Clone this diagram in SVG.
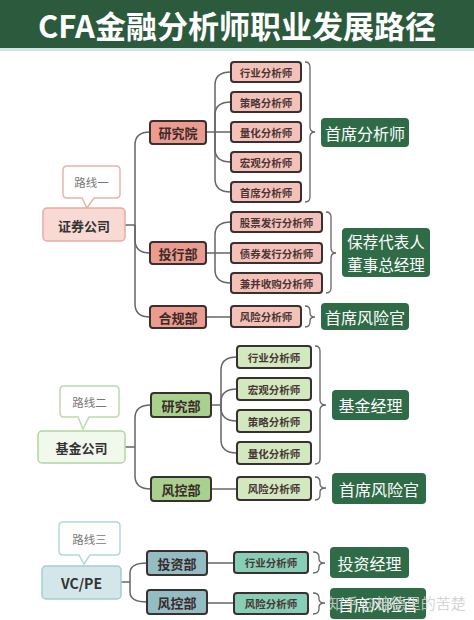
<svg xmlns="http://www.w3.org/2000/svg" width="474" height="620" viewBox="0 0 474 620">
<style>
text{font-family:"Noto Sans CJK SC","Liberation Sans",sans-serif;text-anchor:middle;dominant-baseline:central}
.title{font-size:31px;font-weight:bold;fill:#fff}
.co{font-size:13px;font-weight:bold;fill:#333}
.call{font-size:11.5px;fill:#777}
.mid{font-size:13px;font-weight:bold;fill:#3a2a2a}
.leaf{font-size:10.5px;font-weight:bold;fill:#4a3535}
.res{font-size:16px;fill:#fff}
.res15{font-size:15.5px;fill:#fff}
.dk{stroke:#3b2f2f;stroke-width:2}
.pmid{fill:#ec9b8f}
.pleaf{fill:#f4c1b9}
.gmid{fill:#a9d18e}
.gleaf{fill:#d2e8bf}
.tmid{fill:#93bdc4}
.tleaf{fill:#86ceb6}
.resbox{fill:#2f6b47}
.conn path{fill:none;stroke:#666;stroke-width:1.5}
.brace{fill:none;stroke:#666;stroke-width:1.3}
</style>
<rect width="474" height="620" fill="#fff"/>
<g id="title">
<rect x="0" y="0" width="474" height="48" fill="#2b5a3d"/>
<rect x="0" y="48" width="474" height="3" fill="#cfe7e2"/>
<text x="237" y="24" class="title">CFA金融分析师职业发展路径</text>
</g>

<g class="conn" id="connectors">
<!-- section 1 -->
<path d="M125,225H135"/>
<path d="M135,225V145Q135,132 150,132"/>
<path d="M135,225V240Q135,253 150,253"/>
<path d="M135,225V304Q135,317 150,317"/>
<path d="M206,132H231"/>
<path d="M215,132V85Q215,72 231,72"/>
<path d="M215,132V115Q215,102 231,102"/>
<path d="M215,132V149Q215,162 231,162"/>
<path d="M215,132V179Q215,192 231,192"/>
<path d="M206,253H231"/>
<path d="M215,253V235Q215,222 231,222"/>
<path d="M215,253V270Q215,283 231,283"/>
<path d="M206,317H231"/>
<!-- section 2 -->
<path d="M125,447H135"/>
<path d="M135,447V418Q135,405 151,405"/>
<path d="M135,447V476Q135,489 151,489"/>
<path d="M211,405H221"/>
<path d="M221,405V370Q221,357 237,357"/>
<path d="M221,405V402Q221,389 237,389"/>
<path d="M221,405V408Q221,421 237,421"/>
<path d="M221,405V440Q221,453 237,453"/>
<path d="M211,489H237"/>
<!-- section 3 -->
<path d="M121,582H130"/>
<path d="M130,582V573Q130,563 147,563"/>
<path d="M130,582V592Q130,602 147,602"/>
<path d="M207,563H234"/>
<path d="M207,603H234"/>
</g>

<g id="braces">
<path class="brace" d="M305,62Q310,62 310,67V127Q310,132 315,132Q310,132 310,137V197Q310,202 305,202"/>
<path class="brace" d="M326,212Q331,212 331,217V248Q331,253 336,253Q331,253 331,258V288Q331,293 326,293"/>
<path class="brace" d="M305,306Q310,306 310,311V313Q310,317 315,317Q310,317 310,321V322Q310,327 305,327"/>
<path class="brace" d="M315,346Q320,346 320,351V400Q320,405 326,405Q320,405 320,410V459Q320,464 315,464"/>
<path class="brace" d="M315,477Q320,477 320,482V484Q320,488 326,488Q320,488 320,492V495Q320,500 315,500"/>
<path class="brace" d="M313,552Q319,552 319,557V559Q319,563 325,563Q319,563 319,567V568Q319,573 313,573"/>
<path class="brace" d="M313,593Q319,593 319,598V599Q319,603 325,603Q319,603 319,607V609Q319,614 313,614"/>
</g>

<!-- Section 1 -->
<g id="callout1">
<path d="M67,166H116Q120,166 120,170V194Q120,198 116,198H94L87,208L82,198H67Q63,198 63,194V170Q63,166 67,166Z" fill="#fff" stroke="#e6b5ad" stroke-width="1.5"/>
<text x="91.5" y="182" class="call">路线一</text>
</g>
<g id="zqgs">
<rect x="43" y="208" width="82" height="33" rx="4" fill="#f8d9d4" stroke="#e6aaa2" stroke-width="1.5"/>
<text x="84" y="225" class="co">证券公司</text>
</g>
<g id="yjy"><rect x="150" y="121" width="56" height="23" rx="3" class="pmid dk"/><text x="178" y="132.5" class="mid">研究院</text></g>
<g id="thb"><rect x="150" y="242" width="56" height="22" rx="3" class="pmid dk"/><text x="178" y="253" class="mid">投行部</text></g>
<g id="hgb"><rect x="150" y="306" width="56" height="22" rx="3" class="pmid dk"/><text x="178" y="317" class="mid">合规部</text></g>

<g id="l1a"><rect x="231" y="62" width="70" height="20" rx="3" class="pleaf dk"/><text x="266" y="72" class="leaf">行业分析师</text></g>
<g id="l1b"><rect x="231" y="92" width="70" height="20" rx="3" class="pleaf dk"/><text x="266" y="102" class="leaf">策略分析师</text></g>
<g id="l1c"><rect x="231" y="122" width="70" height="20" rx="3" class="pleaf dk"/><text x="266" y="132" class="leaf">量化分析师</text></g>
<g id="l1d"><rect x="231" y="152" width="70" height="20" rx="3" class="pleaf dk"/><text x="266" y="162" class="leaf">宏观分析师</text></g>
<g id="l1e"><rect x="231" y="182" width="70" height="20" rx="3" class="pleaf dk"/><text x="266" y="192" class="leaf">首席分析师</text></g>
<g id="l1f"><rect x="231" y="212" width="91" height="20" rx="3" class="pleaf dk"/><text x="276.5" y="222" class="leaf">股票发行分析师</text></g>
<g id="l1g"><rect x="231" y="243" width="91" height="20" rx="3" class="pleaf dk"/><text x="276.5" y="253" class="leaf">债券发行分析师</text></g>
<g id="l1h"><rect x="231" y="273" width="91" height="20" rx="3" class="pleaf dk"/><text x="276.5" y="283" class="leaf">兼并收购分析师</text></g>
<g id="l1i"><rect x="231" y="306" width="70" height="21" rx="3" class="pleaf dk"/><text x="266" y="316.5" class="leaf">风险分析师</text></g>

<g id="r1a"><rect x="321" y="118" width="88" height="29" rx="4" class="resbox"/><text x="365" y="132.5" class="res">首席分析师</text></g>
<g id="r1b"><rect x="342" y="228" width="88" height="49" rx="4" class="resbox"/><text x="386" y="241" class="res15">保荐代表人</text><text x="386" y="264" class="res15">董事总经理</text></g>
<g id="r1c"><rect x="321" y="303" width="88" height="27" rx="4" class="resbox"/><text x="365" y="316.5" class="res">首席风险官</text></g>

<!-- Section 2 -->
<g id="callout2">
<path d="M64,386H115Q119,386 119,390V413Q119,417 115,417H89L83,429L78,417H64Q60,417 60,413V390Q60,386 64,386Z" fill="#fff" stroke="#b8dcaa" stroke-width="1.5"/>
<text x="89.5" y="401.5" class="call">路线二</text>
</g>
<g id="jjgs">
<rect x="38" y="431" width="87" height="32" rx="4" fill="#f1f8ec" stroke="#b0d8a0" stroke-width="1.5"/>
<text x="81.5" y="447" class="co">基金公司</text>
</g>
<g id="yjb"><rect x="151" y="393" width="60" height="24" rx="3" class="gmid dk"/><text x="181" y="405" class="mid">研究部</text></g>
<g id="fkb2"><rect x="151" y="477" width="60" height="24" rx="3" class="gmid dk"/><text x="181" y="489" class="mid">风控部</text></g>

<g id="l2a"><rect x="237" y="346" width="74" height="22" rx="3" class="gleaf dk"/><text x="274" y="357" class="leaf">行业分析师</text></g>
<g id="l2b"><rect x="237" y="378" width="74" height="22" rx="3" class="gleaf dk"/><text x="274" y="389" class="leaf">宏观分析师</text></g>
<g id="l2c"><rect x="237" y="410" width="74" height="22" rx="3" class="gleaf dk"/><text x="274" y="421" class="leaf">策略分析师</text></g>
<g id="l2d"><rect x="237" y="442" width="74" height="22" rx="3" class="gleaf dk"/><text x="274" y="453" class="leaf">量化分析师</text></g>
<g id="l2e"><rect x="237" y="477" width="74" height="23" rx="3" class="gleaf dk"/><text x="274" y="488.5" class="leaf">风险分析师</text></g>

<g id="r2a"><rect x="332" y="390" width="77" height="30" rx="4" class="resbox"/><text x="370.5" y="405" class="res">基金经理</text></g>
<g id="r2b"><rect x="332" y="473" width="94" height="31" rx="4" class="resbox"/><text x="379" y="488.5" class="res">首席风险官</text></g>

<!-- Section 3 -->
<g id="callout3">
<path d="M63,522H116Q120,522 120,526V551Q120,555 116,555H90L84,564L79,555H63Q59,555 59,551V526Q59,522 63,522Z" fill="#fff" stroke="#b5d6da" stroke-width="1.5"/>
<text x="89.5" y="538.5" class="call">路线三</text>
</g>
<g id="vcpe">
<rect x="42" y="566" width="79" height="33" rx="4" fill="#d3e7ea" stroke="#a6cbd0" stroke-width="1.5"/>
<text x="81.5" y="583" class="co" style="font-size:14px">VC/PE</text>
</g>
<g id="tzb"><rect x="147" y="551" width="60" height="24" rx="3" class="tmid dk"/><text x="177" y="563" class="mid">投资部</text></g>
<g id="fkb3"><rect x="147" y="590" width="60" height="24" rx="3" class="tmid dk"/><text x="177" y="602" class="mid">风控部</text></g>

<g id="l3a"><rect x="234" y="552" width="74" height="21" rx="3" class="tleaf dk"/><text x="271" y="562.5" class="leaf">行业分析师</text></g>
<g id="l3b"><rect x="234" y="593" width="74" height="21" rx="3" class="tleaf dk"/><text x="271" y="603.5" class="leaf">风险分析师</text></g>

<g id="r3a"><rect x="330" y="547" width="79" height="31" rx="4" class="resbox"/><text x="369.5" y="562.5" class="res">投资经理</text></g>
<g id="r3b"><rect x="330" y="588" width="96" height="31" rx="4" class="resbox"/><text x="378" y="603.5" class="res">首席风险官</text></g>

<g id="watermark"><text x="397" y="602" style="font-size:15px;fill:#cfcfcf;fill-opacity:0.9">知乎 @桂德里的苦楚</text></g>
</svg>
